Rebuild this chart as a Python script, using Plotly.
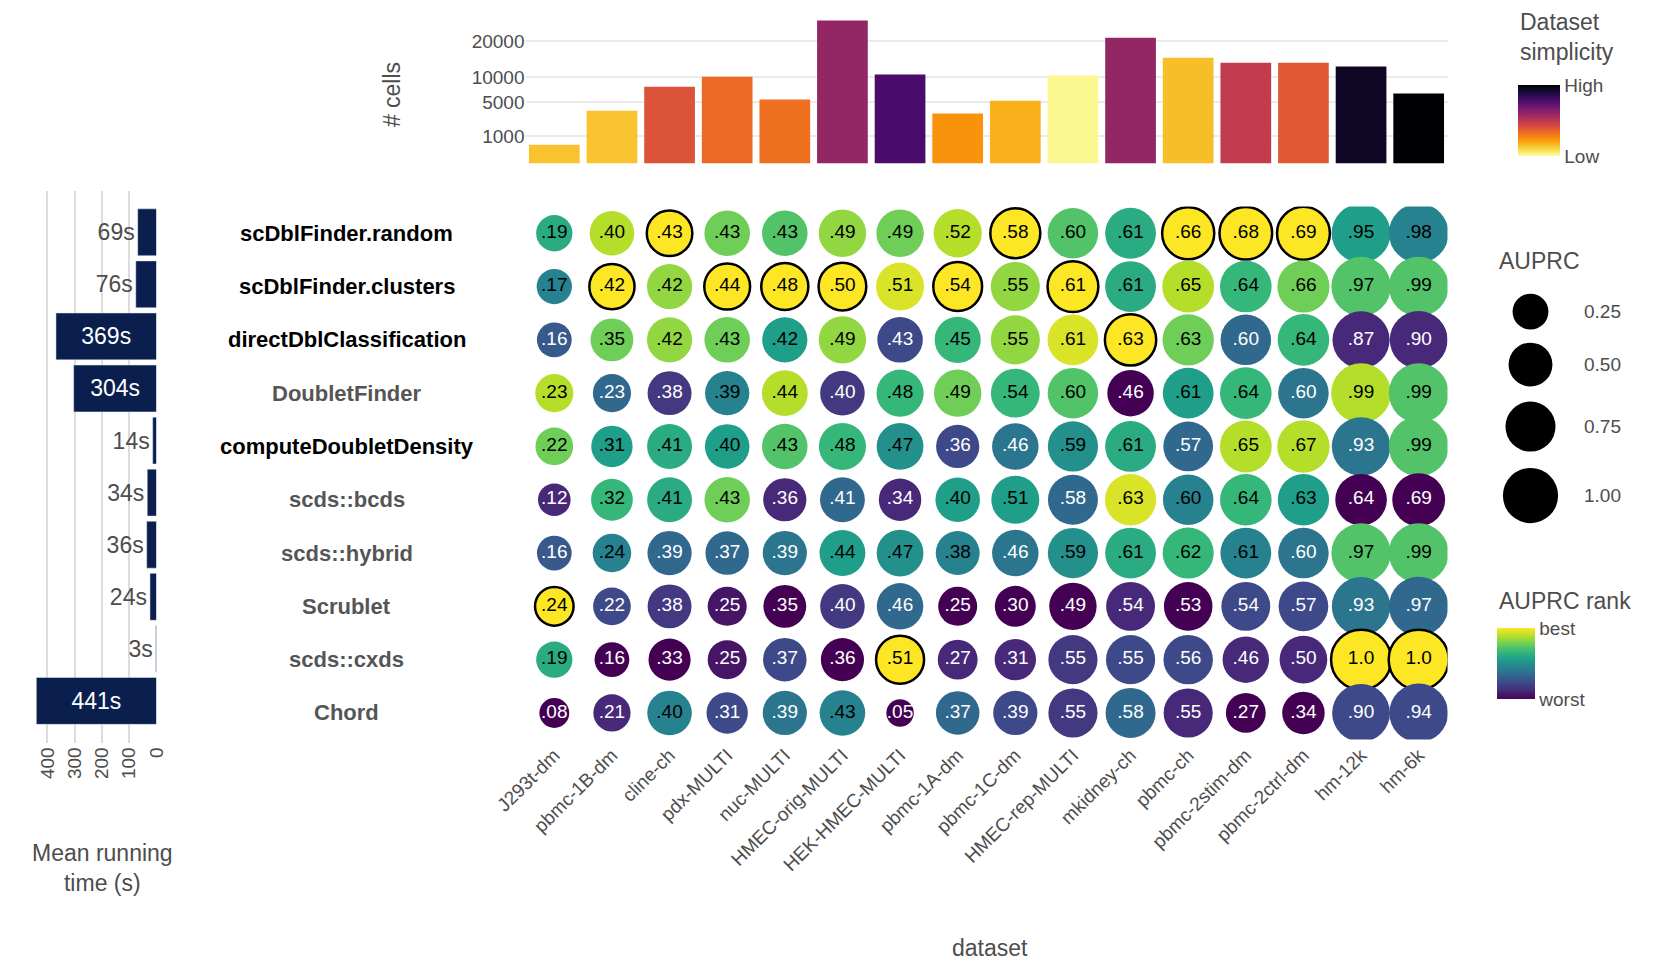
import numpy as np
import plotly.graph_objects as go

W, H = 1662, 968

datasets = ["J293t-dm", "pbmc-1B-dm", "cline-ch", "pdx-MULTI", "nuc-MULTI", "HMEC-orig-MULTI",
            "HEK-HMEC-MULTI", "pbmc-1A-dm", "pbmc-1C-dm", "HMEC-rep-MULTI", "mkidney-ch",
            "pbmc-ch", "pbmc-2stim-dm", "pbmc-2ctrl-dm", "hm-12k", "hm-6k"]
methods = ["scDblFinder.random", "scDblFinder.clusters", "directDblClassification", "DoubletFinder",
           "computeDoubletDensity", "scds::bcds", "scds::hybrid", "Scrublet", "scds::cxds", "Chord"]
bold_black = ["scDblFinder.random", "scDblFinder.clusters", "directDblClassification", "computeDoubletDensity"]

auprc = [
    [.19, .40, .43, .43, .43, .49, .49, .52, .58, .60, .61, .66, .68, .69, .95, .98],
    [.17, .42, .42, .44, .48, .50, .51, .54, .55, .61, .61, .65, .64, .66, .97, .99],
    [.16, .35, .42, .43, .42, .49, .43, .45, .55, .61, .63, .63, .60, .64, .87, .90],
    [.23, .23, .38, .39, .44, .40, .48, .49, .54, .60, .46, .61, .64, .60, .99, .99],
    [.22, .31, .41, .40, .43, .48, .47, .36, .46, .59, .61, .57, .65, .67, .93, .99],
    [.12, .32, .41, .43, .36, .41, .34, .40, .51, .58, .63, .60, .64, .63, .64, .69],
    [.16, .24, .39, .37, .39, .44, .47, .38, .46, .59, .61, .62, .61, .60, .97, .99],
    [.24, .22, .38, .25, .35, .40, .46, .25, .30, .49, .54, .53, .54, .57, .93, .97],
    [.19, .16, .33, .25, .37, .36, .51, .27, .31, .55, .55, .56, .46, .50, 1.0, 1.0],
    [.08, .21, .40, .31, .39, .43, .05, .37, .39, .55, .58, .55, .27, .34, .90, .94],
]
# row index of the best method per dataset (circled)
best_row = [7, 1, 0, 1, 1, 1, 8, 1, 0, 1, 2, 0, 0, 0, 8, 8]

n_cells = [480, 3750, 7900, 10100, 5500, 27400, 10600, 3350, 5300, 10350, 21200, 15000, 13600, 13600, 12600, 6550]
simplicity = [.14, .14, .40, .33, .32, .60, .78, .24, .18, .02, .60, .15, .48, .38, .94, 1.0]

run_time = [69, 76, 369, 304, 14, 34, 36, 24, 3, 441]

GREY = "#4d4d4d"
FONT = "Liberation Sans, Arial"

DX, DY = -8.5, -7.4
def px(x): return (x + DX) / W
def py(y): return 1 - (y + DY) / H

# plot geometry (pixels, before offset)
mx0, mx1 = 526, 1448
my0, my1 = 206, 739
top_y0 = 163
lx0, lx1 = 30, 157
ly0, ly1 = 190, 742

A = np.array(auprc)
nr, nc = A.shape
# rank colour value: 1 = best, 0 = worst (average ties)
rankval = np.zeros_like(A)
for j in range(nc):
    col = A[:, j]
    for i in range(nr):
        better = np.sum(col > col[i])
        ties = np.sum(col == col[i])
        r = better + (ties + 1) / 2
        rankval[i, j] = (nr - r) / (nr - 1)
for j, b in enumerate(best_row):
    rankval[b, j] = 1.0

def size_of(v):
    return 18 + 42 * np.sqrt(v)

xs, ys, sz, cv, lw, tx, tc = [], [], [], [], [], [], []
for i, m in enumerate(methods):
    for j, d in enumerate(datasets):
        v = A[i, j]
        xs.append(d); ys.append(m)
        sz.append(size_of(v)); cv.append(rankval[i, j])
        lw.append(2.5 if best_row[j] == i else 0)
        tx.append("1.0" if v >= 0.995 else f"{v:.2f}"[1:])
        tc.append("white" if rankval[i, j] < 0.42 else "black")

fig = go.Figure()

fig.add_trace(go.Scatter(
    x=xs, y=ys, mode="markers+text", text=tx,
    textfont=dict(family=FONT, size=19, color=tc),
    marker=dict(size=sz, color=cv, colorscale="Viridis", cmin=0, cmax=1, opacity=1,
                line=dict(color="black", width=lw),
                colorbar=dict(x=px(1497), xanchor="left", y=py(663), yanchor="middle", xpad=0, ypad=0,
                              lenmode="pixels", len=71, thickness=38, outlinewidth=0,
                              tickvals=[1, 0], ticktext=["best", "worst"], ticks="",
                              tickfont=dict(family=FONT, size=19, color=GREY))),
    showlegend=False, hoverinfo="skip", xaxis="x", yaxis="y"))

fig.add_trace(go.Bar(
    x=datasets, y=np.sqrt(n_cells), width=0.88,
    marker=dict(color=simplicity, colorscale="Inferno_r", cmin=0, cmax=1, line=dict(width=0),
                colorbar=dict(x=px(1518), xanchor="left", y=py(120), yanchor="middle", xpad=0, ypad=0,
                              lenmode="pixels", len=71, thickness=42, outlinewidth=0,
                              tickvals=[1, 0], ticktext=["High", "Low"], ticks="",
                              tickfont=dict(family=FONT, size=19, color=GREY))),
    showlegend=False, hoverinfo="skip", xaxis="x2", yaxis="y2"))

big = [t > 200 for t in run_time]
fig.add_trace(go.Bar(
    x=run_time, y=methods, orientation="h", width=0.9, marker_color="#0b1f4f",
    text=[f"{t}s" for t in run_time],
    textposition=["inside" if b else "outside" for b in big],
    insidetextanchor="middle", cliponaxis=False,
    textfont=dict(family=FONT, size=23, color=["white" if b else GREY for b in big]),
    showlegend=False, hoverinfo="skip", xaxis="x3", yaxis="y3"))

ymax2 = 168
top_y1 = top_y0 - ymax2 * 0.865
fig.update_layout(
    width=W, height=H, margin=dict(l=0, r=0, t=0, b=0, autoexpand=False),
    plot_bgcolor="white", paper_bgcolor="white",
    font=dict(family=FONT, color=GREY),
    xaxis=dict(domain=[px(mx0), px(mx1)], range=[-0.5, 15.5], categoryorder="array",
               categoryarray=datasets, tickangle=-45, showgrid=False, zeroline=False,
               automargin=False,
               tickfont=dict(family=FONT, size=19, color=GREY), ticks="", ticklen=0),
    yaxis=dict(domain=[py(my1), py(my0)], range=[9.5, -0.5], categoryorder="array", automargin=False,
               categoryarray=methods, showticklabels=False, showgrid=False, zeroline=False),
    xaxis2=dict(domain=[px(mx0), px(mx1)], range=[-0.5, 15.5], categoryorder="array", automargin=False,
                categoryarray=datasets, showticklabels=False, showgrid=False, zeroline=False,
                anchor="y2"),
    yaxis2=dict(domain=[py(top_y0), py(top_y1)], range=[0, ymax2], anchor="x2", automargin=False,
                tickvals=np.sqrt([1000, 5000, 10000, 20000]), ticktext=["1000", "5000", "10000", "20000"],
                showgrid=True, gridcolor="#ebebeb", gridwidth=1.5, zeroline=False,
                tickfont=dict(family=FONT, size=19, color=GREY)),
    xaxis3=dict(domain=[px(lx0), px(lx1)], range=[466, 0], anchor="y3", automargin=False,
                tickvals=[0, 100, 200, 300, 400], tickangle=-90, showgrid=True, gridcolor="#dcdcdc",
                gridwidth=1.5, zeroline=False, tickfont=dict(family=FONT, size=19, color=GREY)),
    yaxis3=dict(domain=[py(ly1), py(ly0)], range=[9.5 + 0.3, -0.5 - 0.3], categoryorder="array",
                categoryarray=methods, showticklabels=False, showgrid=False, zeroline=False,
                anchor="x3", automargin=False),
)

def note(x, y, text, size=23, xanchor="center", **kw):
    fig.add_annotation(x=px(x), y=py(y), xref="paper", yref="paper", text=text, xanchor=xanchor,
                       yanchor="middle", showarrow=False, font=dict(family=FONT, size=size, color=GREY), **kw)

for m in methods:
    fig.add_annotation(x=px(347), xref="paper", xanchor="center", y=m, yref="y", text=f"<b>{m}</b>",
                       showarrow=False, font=dict(family=FONT, size=22,
                                                  color="black" if m in bold_black else "#555555"))

note(103, 867, "Mean running<br>time (s)")
note(990, 947, "dataset")
note(392, 94, "# cells", textangle=-90)
note(1518, 36, "Dataset<br>simplicity", xanchor="left", align="left")
note(1497, 260, "AUPRC", xanchor="left")
note(1497, 600, "AUPRC rank", xanchor="left")

legend_vals = [0.25, 0.50, 0.75, 1.00]
legend_y = [311, 364, 426, 495]
for v, yy in zip(legend_vals, legend_y):
    d = size_of(v) * 0.92
    fig.add_shape(type="circle", xref="paper", yref="paper", xsizemode="pixel", ysizemode="pixel",
                  xanchor=px(1531), yanchor=py(yy), x0=-d / 2, x1=d / 2, y0=-d / 2, y1=d / 2,
                  fillcolor="black", line=dict(width=0))
    note(1582, yy, f"{v:.2f}", size=19, xanchor="left")

fig.write_html("out.html")
